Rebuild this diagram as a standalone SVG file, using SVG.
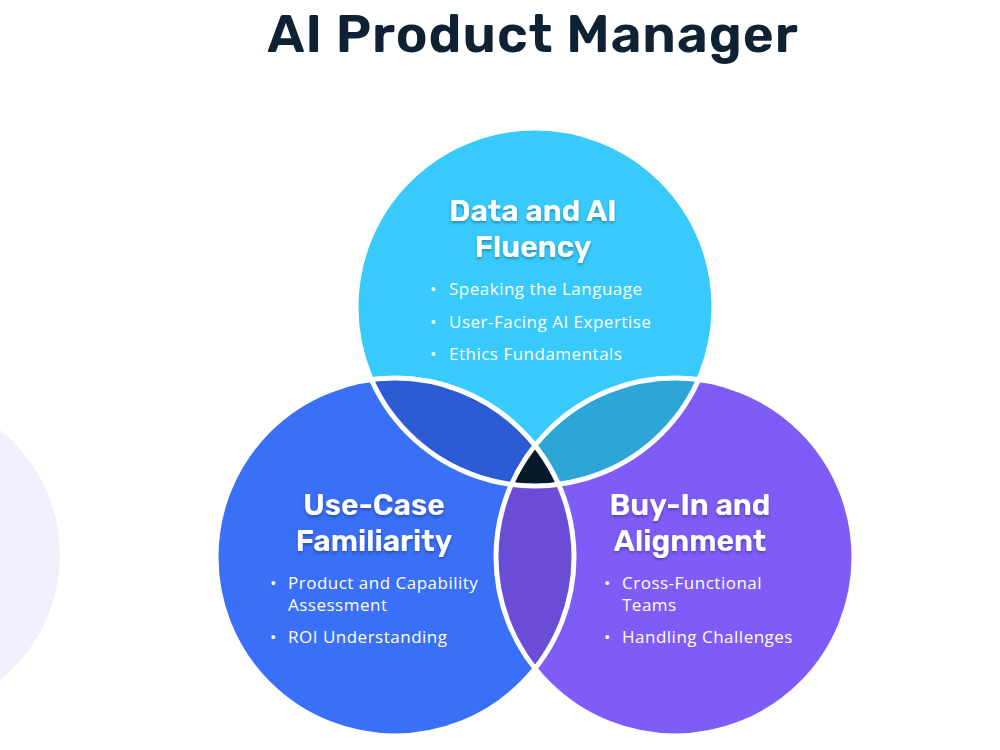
<svg xmlns="http://www.w3.org/2000/svg" width="1000" height="750" viewBox="0 0 1000 750">
<style>
.t{font-family:Rubik,"Open Sans","Noto Sans",sans-serif;font-weight:600;fill:#fff;font-size:30px;text-anchor:middle;filter:url(#sh)}
.b{font-family:"Open Sans","Noto Sans",sans-serif;fill:#fff;font-size:17px;letter-spacing:0.5px}
.o{fill:none;stroke:#fff;stroke-width:5}
</style>
<defs>
<filter id="sh" x="-10%" y="-20%" width="120%" height="150%"><feDropShadow dx="0" dy="2" stdDeviation="1.5" flood-color="#000" flood-opacity="0.3"/></filter>
<clipPath id="cT"><circle cx="535" cy="307" r="179"/></clipPath>
<clipPath id="cL"><circle cx="395" cy="557" r="179"/></clipPath>
<clipPath id="cR"><circle cx="675" cy="557" r="179"/></clipPath>
</defs>
<rect width="1000" height="750" fill="#fff"/>
<circle cx="-100" cy="555" r="160" fill="#F1EFFD"/>
<text x="533" y="52" font-family="Rubik,'Open Sans','Noto Sans',sans-serif" font-weight="600" font-size="53" fill="#0F2233" text-anchor="middle" letter-spacing="1">AI Product Manager</text>
<g id="top"><circle cx="535" cy="307" r="179" fill="#38CAFB"/></g>
<g id="left"><circle cx="395" cy="557" r="179" fill="#3A6FF7"/></g>
<g id="right"><circle cx="675" cy="557" r="179" fill="#7F5CF8"/></g>
<g id="lenses">
<g clip-path="url(#cT)"><circle cx="395" cy="557" r="179" fill="#2C5BD4"/><circle cx="675" cy="557" r="179" fill="#2CA6D6"/></g>
<g clip-path="url(#cL)"><circle cx="675" cy="557" r="179" fill="#6A4CD6"/></g>
<g clip-path="url(#cT)"><g clip-path="url(#cL)"><circle cx="675" cy="557" r="179" fill="#061A2B"/></g></g>
</g>
<g id="outlines">
<circle class="o" cx="535" cy="307" r="179"/>
<circle class="o" cx="395" cy="557" r="179"/>
<circle class="o" cx="675" cy="557" r="179"/>
</g>
<g id="topText">
<text class="t" x="533" y="221">Data and AI</text>
<text class="t" x="533" y="257">Fluency</text>
<text class="b" x="430" y="295">•</text><text class="b" x="449" y="295">Speaking the Language</text>
<text class="b" x="430" y="328">•</text><text class="b" x="449" y="328">User-Facing AI Expertise</text>
<text class="b" x="430" y="360">•</text><text class="b" x="449" y="360">Ethics Fundamentals</text>
</g>
<g id="leftText">
<text class="t" x="374" y="515">Use-Case</text>
<text class="t" x="374" y="551">Familiarity</text>
<text class="b" x="270" y="589">•</text><text class="b" x="288" y="589">Product and Capability</text>
<text class="b" x="288" y="611">Assessment</text>
<text class="b" x="270" y="643">•</text><text class="b" x="288" y="643">ROI Understanding</text>
</g>
<g id="rightText">
<text class="t" x="690" y="515">Buy-In and</text>
<text class="t" x="690" y="551">Alignment</text>
<text class="b" x="604" y="589">•</text><text class="b" x="622" y="589">Cross-Functional</text>
<text class="b" x="622" y="611">Teams</text>
<text class="b" x="604" y="643">•</text><text class="b" x="622" y="643">Handling Challenges</text>
</g>
</svg>
